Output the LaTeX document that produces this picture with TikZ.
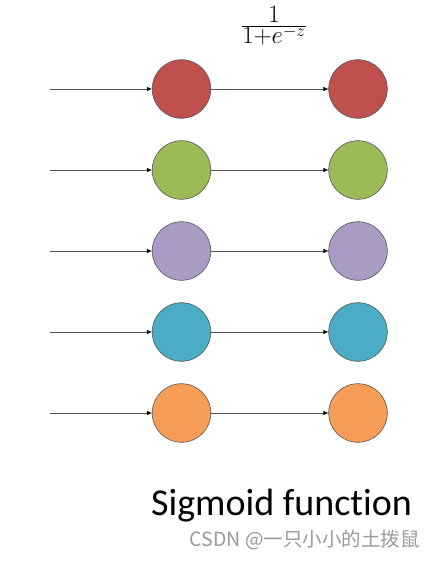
\documentclass[tikz,border=0pt]{standalone}
\usepackage{fontspec}
\newfontfamily\carlito[Ligatures=NoCommon]{Carlito}
\newfontfamily\cjk{Noto Sans CJK SC}
\usetikzlibrary{arrows.meta}
\definecolor{cred}{HTML}{C0504D}
\definecolor{cgreen}{HTML}{9BBB59}
\definecolor{cpurple}{HTML}{AA9BC5}
\definecolor{cblue}{HTML}{4BACC6}
\definecolor{corange}{HTML}{F79D58}
\definecolor{edgegray}{HTML}{555555}
\tikzset{
  neuron/.style={circle, draw=edgegray, line width=0.6pt, minimum size=58.6pt, inner sep=0pt},
  conn/.style={draw=edgegray, line width=0.6pt, -{Latex[length=5pt,width=4.5pt,black]}},
}
\begin{document}
\begin{tikzpicture}[x=1pt,y=-1pt]
\useasboundingbox (0,0) rectangle (435,563);
\foreach \y/\c/\n in {89/cred/1,170/cgreen/2,251/cpurple/3,332/cblue/4,413/corange/5}{
  \coordinate (s\n) at (50,\y);
  \node[neuron, fill=\c] (a\n) at (181.5,\y) {};
  \node[neuron, fill=\c] (b\n) at (358,\y) {};
  \draw[conn] (s\n) -- (a\n);
  \draw[conn] (a\n) -- (b\n);
}
\node[inner sep=0pt] (frac) at (274,26) {\fontsize{38}{44}\selectfont $\textstyle\frac{1}{1+e^{-z}}$};
\node[anchor=base west, inner sep=0pt] (title) at (151,515) {\carlito\fontsize{38}{44}\selectfont Sigmoid function};
\node[anchor=base east, inner sep=0pt, text=black!40] (wm) at (420,546) {\cjk\fontsize{19.5}{22}\selectfont CSDN @一只小小的土拨鼠};
\end{tikzpicture}
\end{document}
